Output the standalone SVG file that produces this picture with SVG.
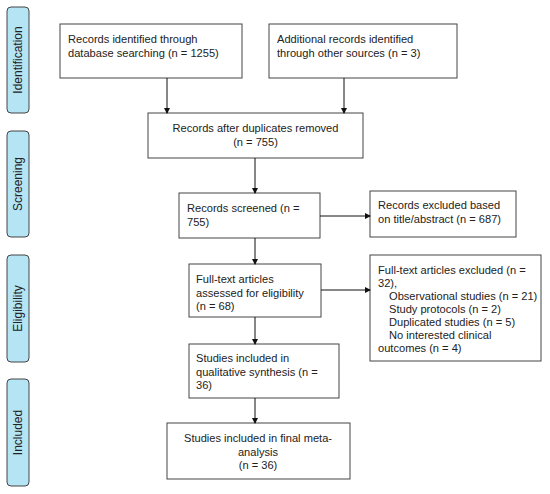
<svg xmlns="http://www.w3.org/2000/svg" width="550" height="494" viewBox="0 0 550 494">
<defs>
<marker id="ah" markerWidth="6" markerHeight="6" refX="5" refY="3" orient="auto" markerUnits="userSpaceOnUse">
<path d="M0,0 L6,3 L0,6 Z" fill="#111"/>
</marker>
<style>
.box{fill:#fff;stroke:#444;stroke-width:1}
.side{fill:#b5e4f4;stroke:#444;stroke-width:1}
text{font-family:"Liberation Sans",Arial,sans-serif;font-size:11.1px;fill:#222}
.st{font-size:12px;text-anchor:middle}
.c{text-anchor:middle}
.edge{stroke:#111;stroke-width:1;fill:none;marker-end:url(#ah)}
</style>
</defs>
<rect width="550" height="494" fill="#fff"/>
<g id="side-identification"><rect class="side" x="7" y="7" width="22" height="106" rx="4"/><text class="st" transform="translate(22,60) rotate(-90)">Identification</text></g>
<g id="side-screening"><rect class="side" x="7" y="131" width="22" height="106" rx="4"/><text class="st" transform="translate(22,184) rotate(-90)">Screening</text></g>
<g id="side-eligibility"><rect class="side" x="7" y="255" width="22" height="107" rx="4"/><text class="st" transform="translate(22,308.5) rotate(-90)">Eligibility</text></g>
<g id="side-included"><rect class="side" x="7" y="379" width="22" height="107" rx="4"/><text class="st" transform="translate(22,432.5) rotate(-90)">Included</text></g>

<g id="n1"><rect class="box" x="60" y="24" width="182" height="54"/><text x="68" y="43">Records identified through</text><text x="68" y="57">database searching (n = 1255)</text></g>
<g id="n2"><rect class="box" x="269" y="24" width="188" height="54"/><text x="277" y="43">Additional records identified</text><text x="277" y="57">through other sources (n = 3)</text></g>
<g id="n3"><rect class="box" x="148" y="113" width="215" height="45"/><text class="c" x="255.5" y="132">Records after duplicates removed</text><text class="c" x="255.5" y="146">(n = 755)</text></g>
<g id="n4"><rect class="box" x="179" y="193" width="141" height="45"/><text x="187" y="212">Records screened (n =</text><text x="187" y="226">755)</text></g>
<g id="n5"><rect class="box" x="370" y="191" width="146" height="46"/><text x="378" y="209">Records excluded based</text><text x="378" y="223">on title/abstract (n = 687)</text></g>
<g id="n6"><rect class="box" x="189" y="264" width="132" height="53"/><text x="196" y="283">Full-text articles</text><text x="196" y="297">assessed for eligibility</text><text x="196" y="310">(n = 68)</text></g>
<g id="n7"><rect class="box" x="370" y="255" width="171" height="106"/><text x="378" y="274">Full-text articles excluded (n =</text><text x="378" y="287">32),</text><text x="389" y="300">Observational studies (n = 21)</text><text x="389" y="313">Study protocols (n = 2)</text><text x="389" y="326">Duplicated studies (n = 5)</text><text x="389" y="338.5">No interested clinical</text><text x="378" y="351.5">outcomes (n = 4)</text></g>
<g id="n8"><rect class="box" x="189" y="344" width="150" height="54"/><text x="196" y="362">Studies included in</text><text x="196" y="376">qualitative synthesis (n =</text><text x="196" y="389">36)</text></g>
<g id="n9"><rect class="box" x="167" y="423" width="183" height="56"/><text class="c" x="258" y="442">Studies included in final meta-</text><text class="c" x="258" y="456">analysis</text><text class="c" x="258" y="469">(n = 36)</text></g>

<g id="connectors">
<line class="edge" x1="167" y1="78" x2="167" y2="113"/>
<line class="edge" x1="344" y1="78" x2="344" y2="113"/>
<line class="edge" x1="255" y1="158" x2="255" y2="193"/>
<line class="edge" x1="320" y1="216" x2="370" y2="216"/>
<line class="edge" x1="255" y1="238" x2="255" y2="264"/>
<line class="edge" x1="321" y1="290" x2="370" y2="290"/>
<line class="edge" x1="255" y1="317" x2="255" y2="344"/>
<line class="edge" x1="255" y1="398" x2="255" y2="423"/>
</g>
</svg>
